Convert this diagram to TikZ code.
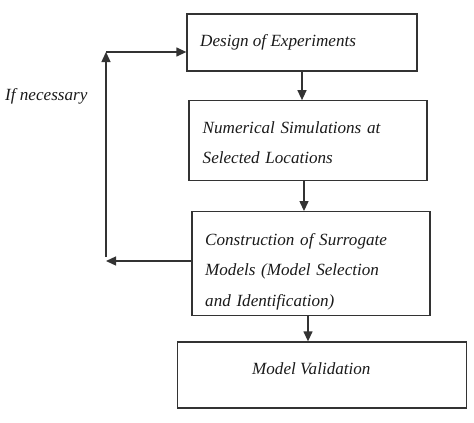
\documentclass[tikz,border=0pt]{standalone}
\usepackage{fontspec}
\setmainfont{Liberation Serif}
\usetikzlibrary{arrows.meta}
\definecolor{ln}{HTML}{333333}
\definecolor{tx}{HTML}{1a1a1a}
\begin{document}
\begin{tikzpicture}[x=1pt,y=-1pt,
  box/.style={draw=ln,line width=1.3pt,minimum width=#1,inner sep=0pt},
  lbl/.style={anchor=base west,inner sep=0pt,text=tx,font=\fontsize{17.1}{30.5}\selectfont\itshape,align=left},
  conn/.style={draw=ln,line width=1.3pt,-{Triangle[length=10pt,width=9pt]}}]
\useasboundingbox (0,0) rectangle (474,423);
% boxes
\node[box=230pt,minimum height=57pt] (b1) at (302,42.4) {};
\node[box=238pt,minimum height=80pt] (b2) at (308,140.8) {};
\node[box=238pt,minimum height=104pt] (b3) at (311,263.7) {};
\node[box=289pt,minimum height=66pt] (b4) at (322.3,375) {};
% texts
\node[lbl] (t1) at (200,46.5) {Design of Experiments};
\node[lbl,text width=222pt] (t2) at (202.5,133) {Numerical Simulations at\\Selected Locations};
\node[lbl,text width=222pt] (t3) at (205,245) {Construction of Surrogate\\Models (Model Selection\\and Identification)};
\node[lbl] (t4) at (252,374) {Model Validation};
\node[lbl] (t5) at (5,100) {If necessary};
% connectors
\draw[conn] (b1.south) -- (b1.south |- b2.north);
\draw[conn] ([xshift=-4pt]b2.south) -- ([xshift=-4pt]b2.south |- b3.north);
\draw[conn] ([xshift=-3pt]b3.south) -- ([xshift=-3pt]b3.south |- b4.north);
\coordinate (fbL) at (106,261);
\coordinate (fbB) at (106,257);
\coordinate (fbT) at (106,52);
\draw[conn] (b3.west |- fbL) -- (fbL);
\draw[conn] (fbB) -- (fbT);
\draw[conn] (fbT) -- (b1.west |- fbT);
\end{tikzpicture}
\end{document}
